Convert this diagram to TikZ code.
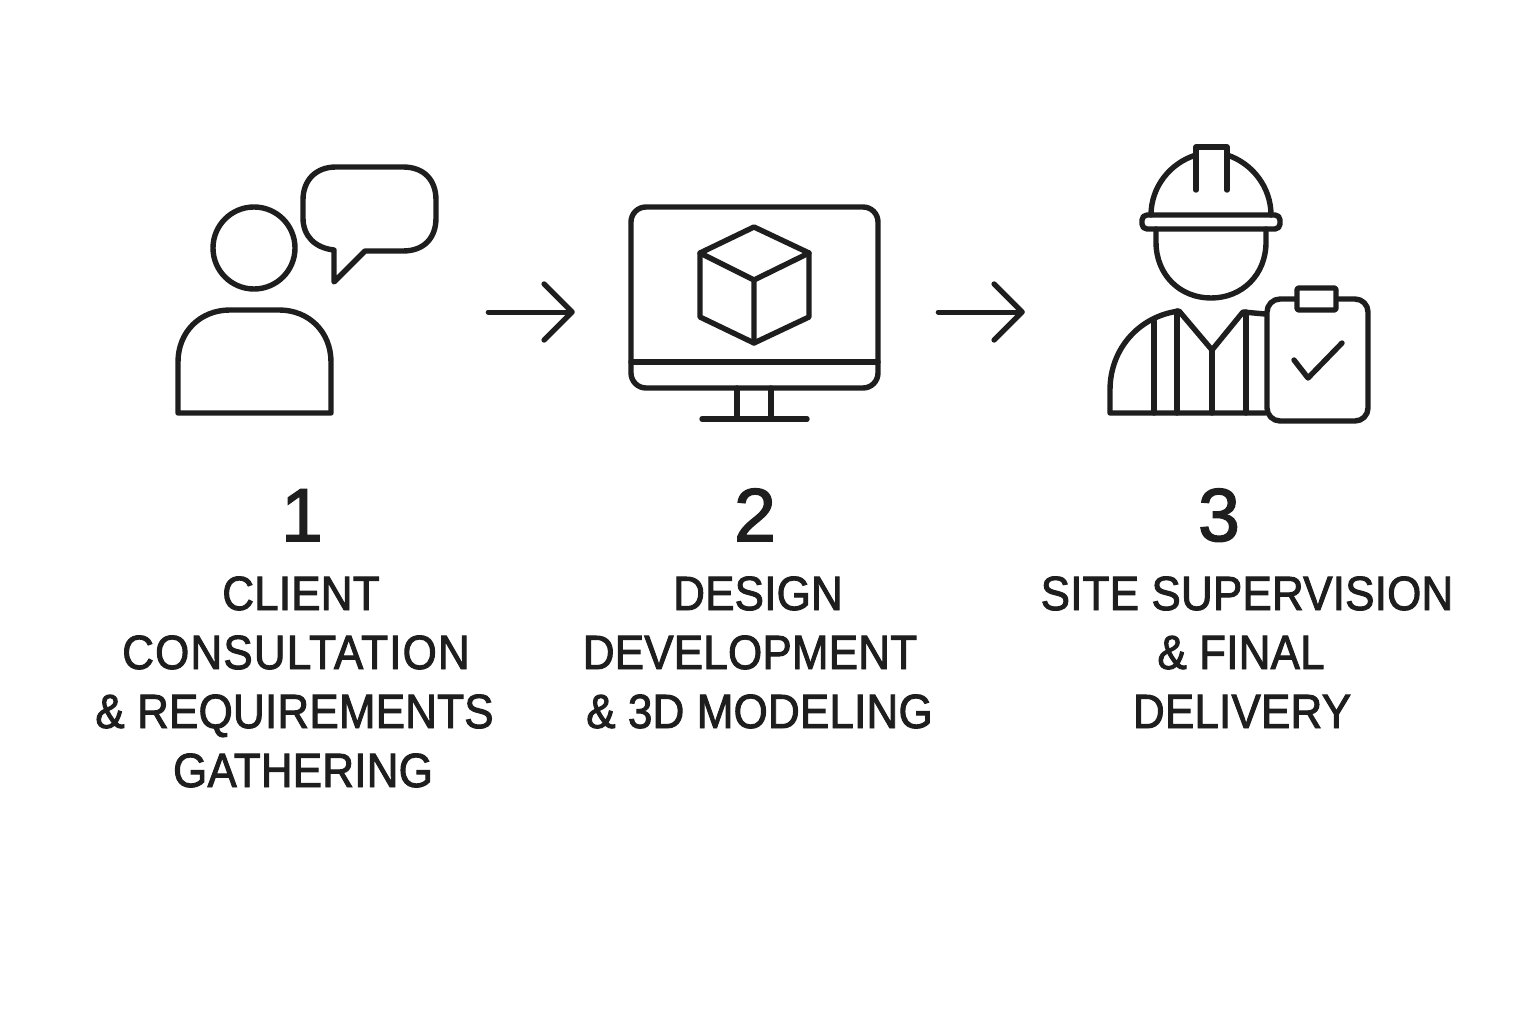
\documentclass[tikz,border=0pt]{standalone}
\usepackage{fontspec}
\setmainfont{Liberation Sans}[FakeBold=2,FakeStretch=0.915,LetterSpace=0.5]
\newfontfamily\numfont{Liberation Sans}[FakeBold=2]
\usetikzlibrary{arrows.meta}
\definecolor{ink}{HTML}{1E1E1E}
\tikzset{
  x=1pt,y=-1pt,
  icon/.style={draw=ink,line width=5.4pt,line join=round,line cap=round,fill=none},
  lbl/.style={anchor=base,inner sep=0pt,text=ink,font=\fontsize{48}{48}\selectfont},
  num/.style={anchor=base,inner sep=0pt,text=ink,font=\numfont\fontsize{75}{75}\selectfont},
  holder/.style={inner sep=0pt,minimum height=200pt,draw=none},
  flow/.style={draw=ink,line width=5pt,line cap=round,line join=round,-{Straight Barb[length=28pt,width=56pt,line width=5.4pt,round]}},
}
\begin{document}
\begin{tikzpicture}
\useasboundingbox (0,0) rectangle (1536,1024);
\fill[white] (0,0) rectangle (1536,1024);
\node[holder,minimum width=362pt] (icona) at (307,312) {};
\node[holder,minimum width=363pt] (iconb) at (756.5,312) {};
\node[holder,minimum width=430pt] (iconc) at (1240,312) {};
\draw[flow] (icona.east) -- (iconb.west);
\draw[flow] (iconb.east) -- (iconc.west);
% person
\draw[icon] (254,248) circle (41);
\draw[icon] (178,413) -- (178,362) .. controls (178,332) and (200,310) .. (230,310) -- (279,310) .. controls (309,310) and (331,332) .. (331,362) -- (331,413) -- cycle;
\draw[icon] (336,167) -- (403,167) .. controls (424,167) and (436,180) .. (436,200) -- (436,218) .. controls (436,238) and (424,251) .. (403,251) -- (365,251) -- (334,282) -- (334,250) .. controls (315,248) and (303,236) .. (303,218) -- (303,200) .. controls (303,180) and (316,167) .. (336,167) -- cycle;
% monitor
\draw[icon,rounded corners=15pt] (631,207) rectangle (878,388);
\draw[icon] (631,362) -- (878,362);
\draw[icon] (737,388) -- (737,419) (771,388) -- (771,419);
\draw[icon] (702,419) -- (807,419);
\draw[icon] (754,227) -- (809,253) -- (809,317) -- (754,343) -- (700,317) -- (700,253) -- cycle;
\draw[icon] (700,253) -- (754,280) -- (809,253) (754,280) -- (754,343);
% worker
\draw[icon] (1151,215) .. controls (1151,187) and (1170,163) .. (1196,155);
\draw[icon] (1227,155) .. controls (1252,163) and (1271,187) .. (1271,215);
\draw[icon] (1196,190) -- (1196,147) -- (1227,147) -- (1227,190);
\draw[icon,rounded corners=5pt] (1142,215) rectangle (1280,229);
\draw[icon] (1156,229) -- (1156,242) .. controls (1156,275) and (1180,298) .. (1211,298) .. controls (1242,298) and (1266,275) .. (1266,242) -- (1266,229);
\draw[icon] (1265,413) -- (1110,413) -- (1110,390) .. controls (1110,348) and (1140,316) .. (1179,311) -- (1212,350) -- (1243,312) -- (1265,314);
\draw[icon] (1154,321) -- (1154,413) (1177,311) -- (1177,413) (1212,350) -- (1212,413) (1246,312) -- (1246,413);
\draw[icon,fill=white,rounded corners=13pt] (1267,299) rectangle (1368,421);
\draw[icon,fill=white,rounded corners=2pt] (1297,288) rectangle (1336,310);
\draw[icon] (1294,360) -- (1308,378) -- (1342,343);
% numbers
\node[num] (na) at (302,541) {1};
\node[num] (nb) at (755,541) {2};
\node[num] (nc) at (1219,541) {3};
% labels
\node[lbl] (a1) at (301,610) {CLIENT};
\node[lbl] (a2) at (296,669) {\addfontfeature{LetterSpace=2.5}CONSULTATION};
\node[lbl] (a3) at (294.5,728) {\& REQUIREMENTS};
\node[lbl] (a4) at (303,787) {GATHERING};
\node[lbl] (b1) at (758,610) {DESIGN};
\node[lbl] (b2) at (750,669) {DEVELOPMENT};
\node[lbl] (b3) at (759.5,728) {\& 3D MODELING};
\node[lbl] (c1) at (1247,610) {SITE SUPERVISION};
\node[lbl] (c2) at (1241,669) {\& FINAL};
\node[lbl] (c3) at (1242,728) {DELIVERY};
\end{tikzpicture}
\end{document}
